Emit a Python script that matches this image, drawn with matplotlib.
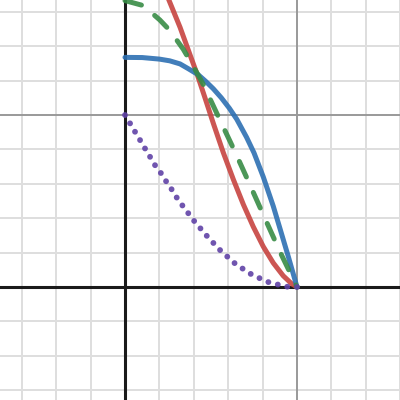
import numpy as np
import matplotlib
matplotlib.use("Agg")
import matplotlib.pyplot as plt

# values (x, y)
blue_x = [0.0, 0.1, 0.2, 0.26, 0.32, 0.37, 0.426, 0.47, 0.514, 0.56, 0.607, 0.65, 0.707,
          0.75, 0.804, 0.862, 0.901, 0.95, 1.0]
blue_y = [1.335, 1.334, 1.325, 1.315, 1.297, 1.268, 1.234, 1.195, 1.152, 1.10, 1.039, 0.975, 0.87,
          0.78, 0.64, 0.47, 0.34, 0.175, 0.0]

green_x = [0.0, 0.107, 0.203, 0.262, 0.339, 0.407, 0.455, 0.543, 0.64, 0.717, 0.804, 0.901, 0.978, 1.0]
green_y = [1.665, 1.636, 1.552, 1.49, 1.382, 1.265, 1.178, 0.99, 0.785, 0.615, 0.42, 0.205, 0.045, 0.0]

red_x = [0.23, 0.255, 0.32, 0.378, 0.42, 0.465, 0.514, 0.572, 0.63, 0.688, 0.746, 0.804,
         0.862, 0.92, 0.97, 1.0]
red_y = [1.735, 1.669, 1.51, 1.35, 1.235, 1.10, 0.95, 0.78, 0.625, 0.48, 0.35, 0.235,
         0.14, 0.065, 0.018, 0.0]

purple_x = [0.0, 0.029, 0.058, 0.087, 0.116, 0.145, 0.174, 0.207, 0.238, 0.271, 0.30, 0.333,
            0.401, 0.475, 0.548, 0.634, 0.723, 0.824, 0.936, 1.0]
purple_y = [1.0, 0.952, 0.903, 0.855, 0.806, 0.758, 0.709, 0.665, 0.616, 0.568, 0.521, 0.475,
            0.385, 0.298, 0.219, 0.141, 0.08, 0.031, 0.002, 0.0]

xmin, xmax = -125 / 172, 275 / 172
ymin, ymax = -113 / 172, 287 / 172

fig = plt.figure(figsize=(4, 4), dpi=100)
ax = fig.add_axes([0, 0, 1, 1])
ax.set_xlim(xmin, xmax)
ax.set_ylim(ymin, ymax)

# grid: minor every 0.2, major every 1
minor = [v for v in np.arange(-0.6, 1.61, 0.2) if abs(v - round(v)) > 1e-6]
for v in minor:
    ax.axvline(v, color="#dedede", lw=1.4, zorder=0)
    ax.axhline(v, color="#dedede", lw=1.4, zorder=0)
ax.axvline(1, color="#999999", lw=1.4, zorder=0.5)
ax.axhline(1, color="#999999", lw=1.4, zorder=0.5)
ax.axvline(0, color="#1a1a1a", lw=2.2, zorder=1)
ax.axhline(0, color="#1a1a1a", lw=2.2, zorder=1)

lw = 3.6
ax.plot(red_x, red_y, color="#c74440", alpha=0.9, lw=lw, solid_capstyle="round",
        solid_joinstyle="round", zorder=3)
ax.plot(blue_x, blue_y, color="#2d70b3", alpha=0.9, lw=lw, solid_capstyle="round",
        solid_joinstyle="round", zorder=3)
ax.plot(green_x, green_y, color="#388c46", alpha=0.9, lw=lw, dashes=(3.4, 3.4),
        dash_capstyle="round", dash_joinstyle="round", zorder=3)
ax.plot(purple_x, purple_y, color="#6042a6", alpha=0.9, lw=4.2, dashes=(0.01, 1.66),
        dash_capstyle="round", zorder=3)

for s in ax.spines.values():
    s.set_visible(False)
ax.set_xticks([])
ax.set_yticks([])

fig.savefig("out.png", dpi=100)
